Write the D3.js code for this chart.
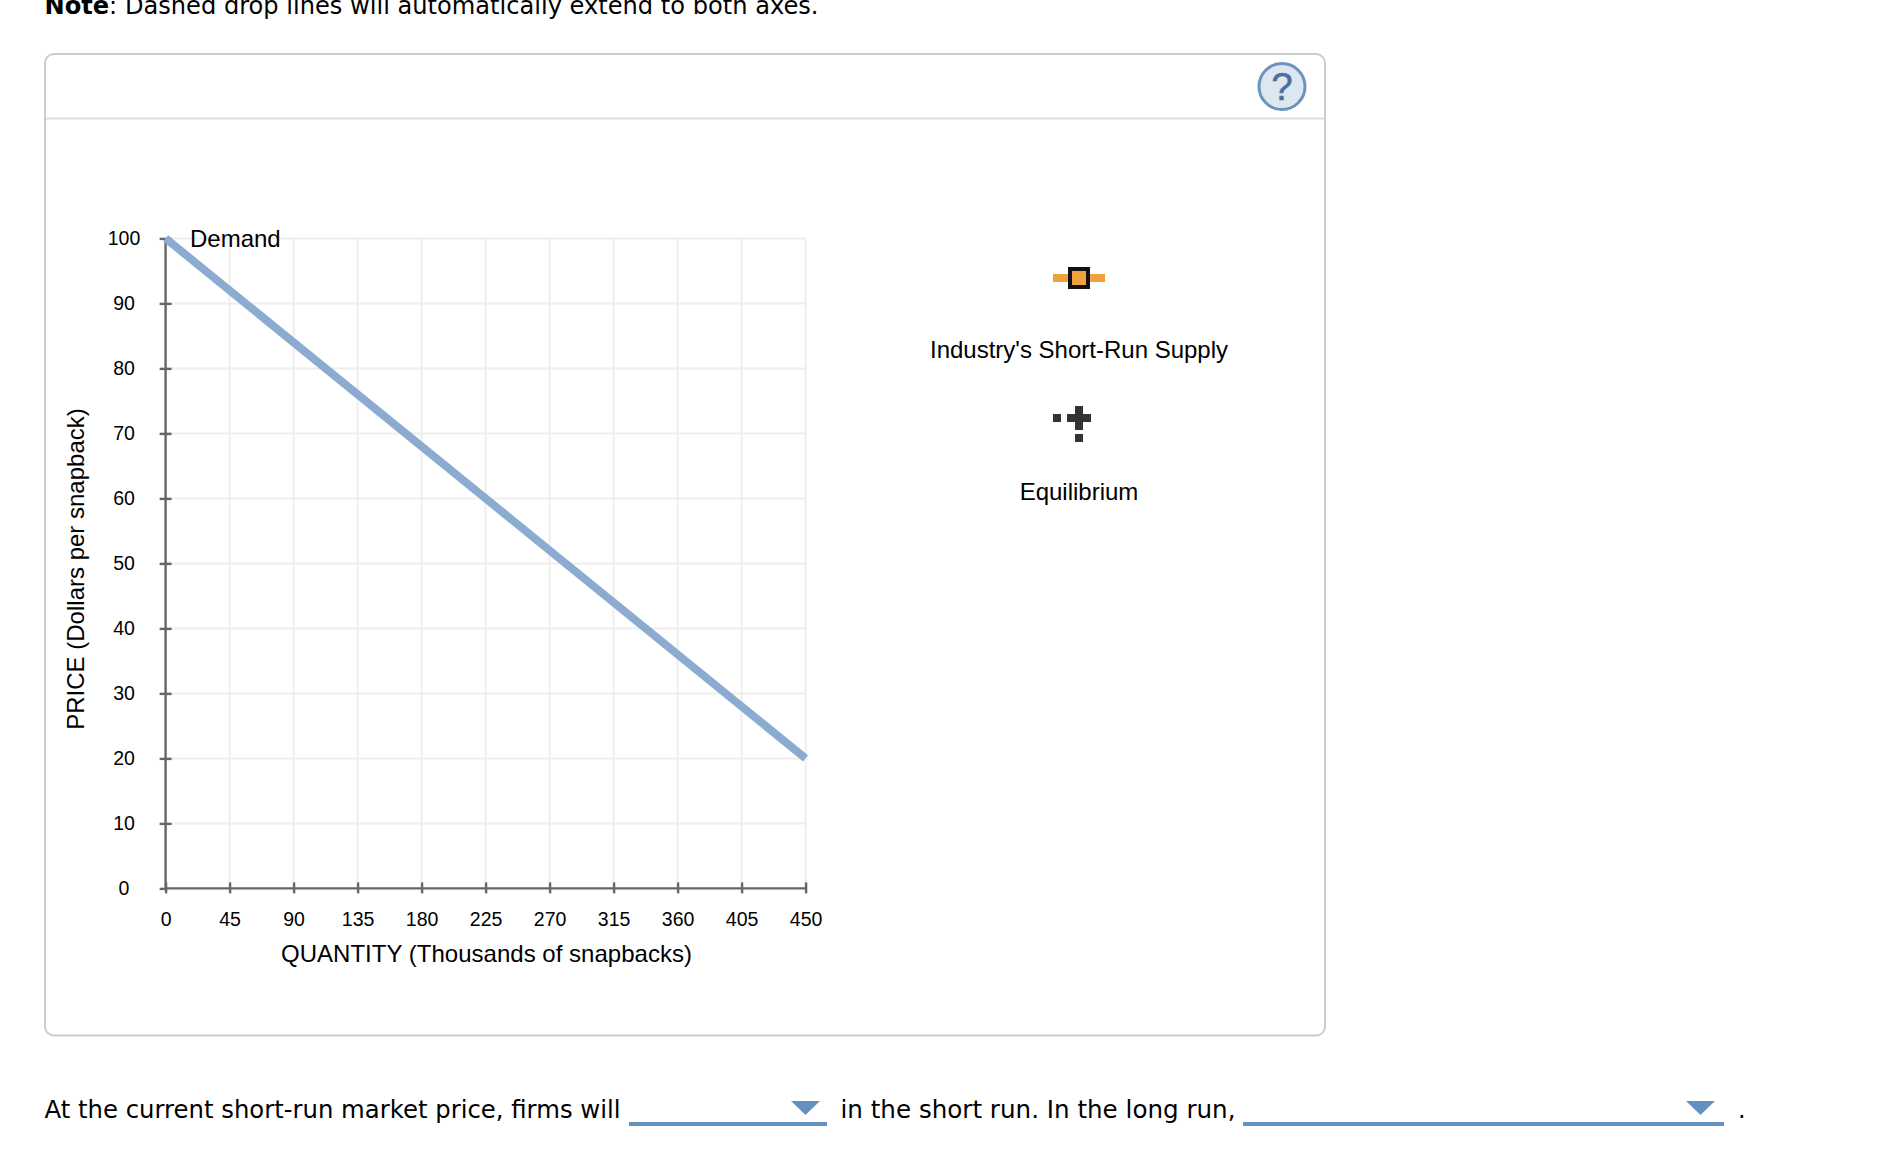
<!DOCTYPE html>
<html><head><meta charset="utf-8">
<script src="https://cdn.jsdelivr.net/npm/d3@7/dist/d3.min.js"></script>
<style>html,body{margin:0;padding:0;background:#fff;overflow:hidden}svg{display:block}</style>
</head><body><svg id="c" width="1896" height="1164"></svg>
<script>
const quantityTicks=[0,45,90,135,180,225,270,315,360,405,450];
const priceTicks=[0,10,20,30,40,50,60,70,80,90,100];
const demandQuantity=[0,450];
const demandPrice=[100,20];
const xTitle="QUANTITY (Thousands of snapbacks)";
const yTitle="PRICE (Dollars per snapback)";
const legendLabels=["Industry's Short-Run Supply","Equilibrium"];

const svg=d3.select("#c");
const ARIAL="Liberation Sans, Arial, sans-serif", VERD="DejaVu Sans, Verdana, sans-serif";
const x=d3.scaleLinear().domain([0,450]).range([165.6,805.6]);
const y=d3.scaleLinear().domain([0,100]).range([888.4,238.4]);

// top note
const note=svg.append("text").attr("x",44.5).attr("y",13.5).attr("font-family",VERD).attr("font-size",24).attr("fill","#000")
 .attr("textLength",774).attr("lengthAdjust","spacingAndGlyphs");
note.append("tspan").attr("font-weight","bold").text("Note");
note.append("tspan").text(": Dashed drop lines will automatically extend to both axes.");

// panel
svg.append("rect").attr("x",45).attr("y",54).attr("width",1280).attr("height",981.5).attr("rx",9)
 .attr("fill","#fff").attr("stroke","#ccc").attr("stroke-width",2);
svg.append("line").attr("x1",46).attr("x2",1324).attr("y1",118.5).attr("y2",118.5).attr("stroke","#ddd").attr("stroke-width",2);
svg.append("circle").attr("cx",1282).attr("cy",86.5).attr("r",23).attr("fill","#dee6ef").attr("stroke","#6c93bd").attr("stroke-width",3);
svg.append("text").attr("x",1282).attr("y",100).attr("text-anchor","middle").attr("font-family",ARIAL)
 .attr("font-size",38).attr("fill","#48709f").attr("stroke","#48709f").attr("stroke-width",0.6).text("?");

// grid
const g=svg.append("g");
g.selectAll(".gx").data(quantityTicks.slice(1)).join("line").attr("x1",d=>x(d)).attr("x2",d=>x(d)).attr("y1",y(100)).attr("y2",y(0))
 .attr("stroke","#eeeeee").attr("stroke-width",2);
g.selectAll(".gy").data(priceTicks.slice(1)).join("line").attr("x1",x(0)).attr("x2",x(450)).attr("y1",d=>y(d)).attr("y2",d=>y(d))
 .attr("stroke","#eeeeee").attr("stroke-width",2);

// axes
const xAxis=g.append("g").attr("transform",`translate(0,${y(0)})`).call(d3.axisBottom(x).tickValues(quantityTicks).tickFormat(d3.format("d")).tickSize(5).tickPadding(26));
const yAxis=g.append("g").attr("transform",`translate(${x(0)},0)`).call(d3.axisLeft(y).tickValues(priceTicks).tickFormat(d3.format("d")).tickSize(6));
[xAxis,yAxis].forEach(a=>{a.selectAll("path,line").attr("stroke","#666").attr("stroke-width",2.4);
 a.select(".domain").attr("d",a===xAxis?`M${x(0)},0H${x(450)}`:`M0,${y(0)}V${y(100)}`);
 a.selectAll("text").attr("font-family",ARIAL).attr("font-size",19.5).attr("fill","#000");});
xAxis.selectAll(".tick line").attr("y1",-6).attr("y2",5);
yAxis.selectAll(".tick line").attr("x1",-6).attr("x2",6);
yAxis.selectAll(".tick line").filter(d=>d===0).attr("x2",0);
xAxis.selectAll(".tick text").attr("dy",0).attr("y",37.6).attr("dx",0);
yAxis.selectAll(".tick text").attr("text-anchor","middle").attr("x",-41.6).attr("dy","0.32em").attr("y",0);

// titles
svg.append("text").attr("x",486.5).attr("y",962).attr("text-anchor","middle").attr("font-family",ARIAL).attr("font-size",24).attr("textLength",411).text(xTitle);
svg.append("text").attr("transform","translate(84,569) rotate(-90)").attr("text-anchor","middle").attr("font-family",ARIAL).attr("font-size",24).text(yTitle);

// demand
const line=d3.line().x(d=>x(d[0])).y(d=>y(d[1]));
svg.append("path").attr("d",line(demandQuantity.map((q,i)=>[q,demandPrice[i]]))).attr("fill","none").attr("stroke","#8cabd0").attr("stroke-width",8);
svg.append("text").attr("x",190).attr("y",247).attr("font-family",ARIAL).attr("font-size",24).text("Demand");

// legend
svg.append("rect").attr("x",1053).attr("y",274).attr("width",52).attr("height",8).attr("fill","#f0a13a");
svg.append("rect").attr("x",1070).attr("y",269).attr("width",18).attr("height",18).attr("fill","#f0a13a").attr("stroke","#111").attr("stroke-width",4);
svg.append("text").attr("x",1079).attr("y",358).attr("text-anchor","middle").attr("font-family",ARIAL).attr("font-size",24).text(legendLabels[0]);
[[1067,414,24,8],[1075,406,8,24],[1053,414,8,8],[1075,434,8,8]].forEach(r=>svg.append("rect").attr("x",r[0]).attr("y",r[1]).attr("width",r[2]).attr("height",r[3]).attr("fill","#333"));
svg.append("text").attr("x",1079).attr("y",499.5).attr("text-anchor","middle").attr("font-family",ARIAL).attr("font-size",24).text(legendLabels[1]);

// sentence
const sent=(t,x0,w)=>svg.append("text").attr("x",x0).attr("y",1117.5).attr("font-family",VERD).attr("font-size",24).attr("fill","#000")
 .attr("textLength",w).attr("lengthAdjust","spacingAndGlyphs").text(t);
sent("At the current short-run market price, firms will",44.5,576);
sent("in the short run. In the long run,",840.5,395);
svg.append("text").attr("x",1738).attr("y",1117.5).attr("font-family",VERD).attr("font-size",24).text(".");
[[629,198,791],[1243,481,1686]].forEach(d=>{
 svg.append("rect").attr("x",d[0]).attr("y",1122).attr("width",d[1]).attr("height",4).attr("fill","#6491c0");
 svg.append("path").attr("d",`M${d[2]},1101h29l-14.5,14z`).attr("fill","#6491c0");
});
</script></body></html>
